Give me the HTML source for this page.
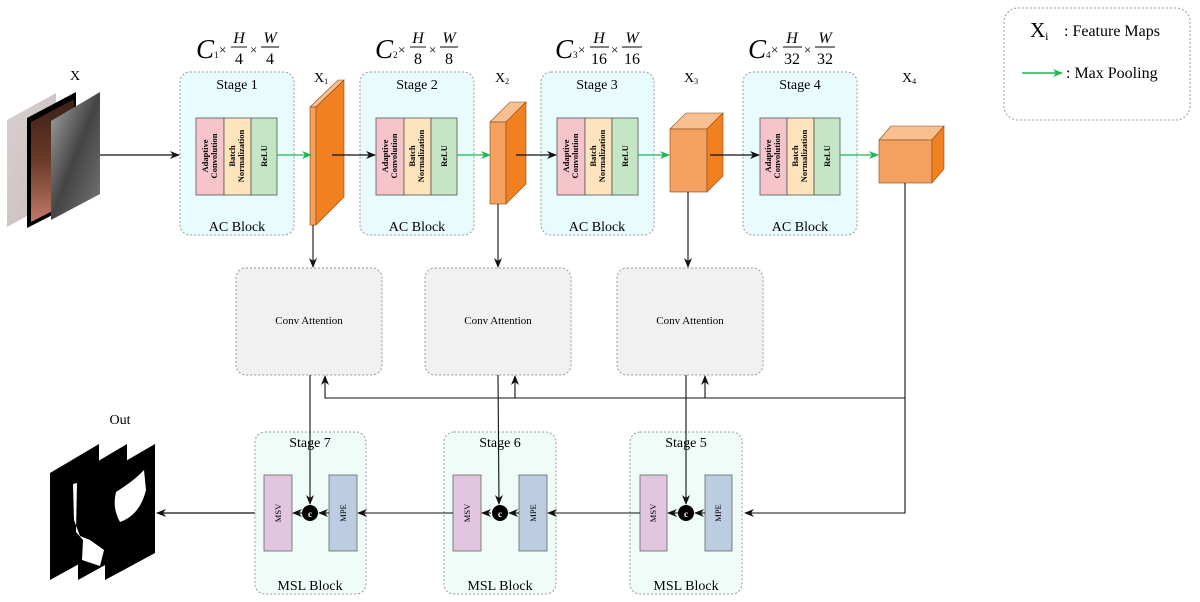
<!DOCTYPE html>
<html><head><meta charset="utf-8"><style>
html,body{margin:0;padding:0;background:#fff;}
svg{display:block;font-family:"Liberation Serif",serif;}
</style></head><body>
<svg width="1200" height="602" viewBox="0 0 1200 602" xmlns="http://www.w3.org/2000/svg">
<defs>
<marker id="ab" markerWidth="10" markerHeight="8" refX="9" refY="4" orient="auto" markerUnits="userSpaceOnUse"><path d="M0,0 L10,4 L0,8 L3,4 Z" fill="#111"/></marker>
<marker id="ag" markerWidth="10" markerHeight="8" refX="9" refY="4" orient="auto" markerUnits="userSpaceOnUse"><path d="M0,0 L10,4 L0,8 L3,4 Z" fill="#1db954"/></marker>
<linearGradient id="g1" x1="0" y1="0" x2="1" y2="1"><stop offset="0" stop-color="#d8d0d0"/><stop offset="1" stop-color="#c8bcbc"/></linearGradient>
<linearGradient id="g2" x1="0" y1="0" x2="0" y2="1"><stop offset="0" stop-color="#3a2018"/><stop offset="0.5" stop-color="#6a3a28"/><stop offset="1" stop-color="#c07a6a"/></linearGradient>
<linearGradient id="g3" x1="0" y1="0" x2="1" y2="1"><stop offset="0" stop-color="#aaa"/><stop offset="0.5" stop-color="#444"/><stop offset="1" stop-color="#777"/></linearGradient>
</defs>

<!-- Legend -->
<rect x="1004" y="8" width="186" height="112" rx="14" fill="#fff" stroke="#999" stroke-dasharray="2,2"/>
<text x="1030" y="37" font-size="21">X<tspan font-size="12" dy="3">i</tspan></text>
<text x="1064" y="36" font-size="16">:  Feature Maps</text>
<line x1="1022" y1="73" x2="1062" y2="73" stroke="#1db954" stroke-width="1.5" marker-end="url(#ag)"/>
<text x="1066" y="78" font-size="16">:  Max Pooling</text>

<!-- Input images -->
<polygon points="7,120 56,93 56,200 7,227" fill="url(#g1)"/>
<polygon points="27,118 76,92 76,203 27,228" fill="#000"/>
<polygon points="31,122 74,99 74,200 31,222" fill="url(#g2)"/>
<polygon points="51,121 100,92 100,194 51,220" fill="url(#g3)"/>
<text x="75" y="80" font-size="14" text-anchor="middle">X</text>

<!-- Output images -->
<polygon points="50,473 99,444 99,553 50,580" fill="#000"/>
<polygon points="78,473 127,444 127,553 78,580" fill="#000"/>
<polygon points="105,473 155,444 155,553 105,580" fill="#000"/>
<path d="M73,484 L77,483 L76,532 L83,540 L82,560 L100,566 L104,550 L90,540 L80,536 L74,520 Z" fill="#fff"/>
<path d="M116,492 Q135,480 144,470 L146,490 Q140,515 120,522 Q112,508 116,492 Z" fill="#fff"/>
<text x="120" y="424" font-size="14" text-anchor="middle">Out</text>
<line x1="255" y1="513" x2="157" y2="513" stroke="#111" stroke-width="1.2" marker-end="url(#ab)"/>

<!-- Stage boxes -->
<g fill="#e8fbfd" stroke="#999" stroke-dasharray="2,2">
<rect x="180" y="72" width="114" height="163" rx="10"/>
<rect x="360" y="72" width="114" height="163" rx="10"/>
<rect x="541" y="72" width="113" height="163" rx="10"/>
<rect x="743" y="72" width="114" height="163" rx="10"/>
</g>
<g font-size="14" text-anchor="middle">
<text x="237" y="89">Stage 1</text><text x="237" y="231">AC Block</text>
<text x="417" y="89">Stage 2</text><text x="417" y="231">AC Block</text>
<text x="597" y="89">Stage 3</text><text x="597" y="231">AC Block</text>
<text x="800" y="89">Stage 4</text><text x="800" y="231">AC Block</text>
</g>

<!-- Inner blocks -->
<g stroke="#555" stroke-width="0.8">
<rect x="196" y="118" width="28" height="77" fill="#f6c4cb"/><rect x="224" y="118" width="27" height="77" fill="#fde4bc"/><rect x="251" y="118" width="26" height="77" fill="#c5e6c5"/>
<rect x="376" y="118" width="28" height="77" fill="#f6c4cb"/><rect x="404" y="118" width="27" height="77" fill="#fde4bc"/><rect x="431" y="118" width="26" height="77" fill="#c5e6c5"/>
<rect x="557" y="118" width="28" height="77" fill="#f6c4cb"/><rect x="585" y="118" width="27" height="77" fill="#fde4bc"/><rect x="612" y="118" width="26" height="77" fill="#c5e6c5"/>
<rect x="760" y="118" width="27" height="77" fill="#f6c4cb"/><rect x="787" y="118" width="27" height="77" fill="#fde4bc"/><rect x="814" y="118" width="26" height="77" fill="#c5e6c5"/>
</g>
<g font-size="8.5" font-weight="bold" text-anchor="middle">
<g transform="translate(210,156) rotate(-90)"><text y="-2">Adaptive</text><text y="7">Convolution</text></g>
<g transform="translate(237,156) rotate(-90)"><text y="-2">Batch</text><text y="7">Normalization</text></g>
<g transform="translate(264,156) rotate(-90)"><text y="3">ReLU</text></g>
<g transform="translate(390,156) rotate(-90)"><text y="-2">Adaptive</text><text y="7">Convolution</text></g>
<g transform="translate(417,156) rotate(-90)"><text y="-2">Batch</text><text y="7">Normalization</text></g>
<g transform="translate(444,156) rotate(-90)"><text y="3">ReLU</text></g>
<g transform="translate(571,156) rotate(-90)"><text y="-2">Adaptive</text><text y="7">Convolution</text></g>
<g transform="translate(598,156) rotate(-90)"><text y="-2">Batch</text><text y="7">Normalization</text></g>
<g transform="translate(625,156) rotate(-90)"><text y="3">ReLU</text></g>
<g transform="translate(773,156) rotate(-90)"><text y="-2">Adaptive</text><text y="7">Convolution</text></g>
<g transform="translate(800,156) rotate(-90)"><text y="-2">Batch</text><text y="7">Normalization</text></g>
<g transform="translate(827,156) rotate(-90)"><text y="3">ReLU</text></g>
</g>

<!-- Formulas -->
<g font-style="italic">
<g transform="translate(196,0)"><text x="0" y="58" font-size="27">C</text><text x="18" y="58" font-size="9" font-style="normal">1</text><text x="23" y="54" font-size="13" font-style="normal">×</text><text x="43" y="43" font-size="16" text-anchor="middle">H</text><line x1="35" y1="47" x2="51" y2="47" stroke="#000" stroke-width="0.9"/><text x="43" y="64" font-size="16" font-style="normal" text-anchor="middle">4</text><text x="54" y="54" font-size="13" font-style="normal">×</text><text x="74" y="43" font-size="16" text-anchor="middle">W</text><line x1="65" y1="47" x2="83" y2="47" stroke="#000" stroke-width="0.9"/><text x="74" y="64" font-size="16" font-style="normal" text-anchor="middle">4</text></g>
<g transform="translate(375,0)"><text x="0" y="58" font-size="27">C</text><text x="18" y="58" font-size="9" font-style="normal">2</text><text x="23" y="54" font-size="13" font-style="normal">×</text><text x="43" y="43" font-size="16" text-anchor="middle">H</text><line x1="35" y1="47" x2="51" y2="47" stroke="#000" stroke-width="0.9"/><text x="43" y="64" font-size="16" font-style="normal" text-anchor="middle">8</text><text x="54" y="54" font-size="13" font-style="normal">×</text><text x="74" y="43" font-size="16" text-anchor="middle">W</text><line x1="65" y1="47" x2="83" y2="47" stroke="#000" stroke-width="0.9"/><text x="74" y="64" font-size="16" font-style="normal" text-anchor="middle">8</text></g>
<g transform="translate(555,0)"><text x="0" y="58" font-size="27">C</text><text x="18" y="58" font-size="9" font-style="normal">3</text><text x="23" y="54" font-size="13" font-style="normal">×</text><text x="44" y="43" font-size="16" text-anchor="middle">H</text><line x1="35" y1="47" x2="54" y2="47" stroke="#000" stroke-width="0.9"/><text x="44" y="64" font-size="16" font-style="normal" text-anchor="middle">16</text><text x="56" y="54" font-size="13" font-style="normal">×</text><text x="77" y="43" font-size="16" text-anchor="middle">W</text><line x1="67" y1="47" x2="87" y2="47" stroke="#000" stroke-width="0.9"/><text x="77" y="64" font-size="16" font-style="normal" text-anchor="middle">16</text></g>
<g transform="translate(748,0)"><text x="0" y="58" font-size="27">C</text><text x="18" y="58" font-size="9" font-style="normal">4</text><text x="23" y="54" font-size="13" font-style="normal">×</text><text x="44" y="43" font-size="16" text-anchor="middle">H</text><line x1="35" y1="47" x2="54" y2="47" stroke="#000" stroke-width="0.9"/><text x="44" y="64" font-size="16" font-style="normal" text-anchor="middle">32</text><text x="56" y="54" font-size="13" font-style="normal">×</text><text x="77" y="43" font-size="16" text-anchor="middle">W</text><line x1="67" y1="47" x2="87" y2="47" stroke="#000" stroke-width="0.9"/><text x="77" y="64" font-size="16" font-style="normal" text-anchor="middle">32</text></g>
</g>

<!-- Feature maps -->
<g stroke="#8a4a10" stroke-width="0.6">
<polygon points="310,107 316,107 344,80 338,80" fill="#f8c090"/>
<rect x="310" y="107" width="6" height="118" fill="#f4a060"/>
<polygon points="316,107 344,80 344,197 316,225" fill="#f08020"/>

<polygon points="490,122 506,122 526,102 510,102" fill="#f8c090"/>
<rect x="490" y="122" width="16" height="82" fill="#f4a060"/>
<polygon points="506,122 526,102 526,184 506,204" fill="#f08020"/>

<polygon points="670,129 707,129 723,113 686,113" fill="#f8c090"/>
<rect x="670" y="129" width="37" height="63" fill="#f4a060"/>
<polygon points="707,129 723,113 723,176 707,192" fill="#f08020"/>

<polygon points="879,140 932,140 944,126 891,126" fill="#f8c090"/>
<rect x="879" y="140" width="53" height="43" fill="#f4a060"/>
<polygon points="932,140 944,126 944,169 932,183" fill="#f08020"/>
</g>
<g font-size="14">
<text x="314" y="82">X<tspan font-size="8" dy="2">1</tspan></text>
<text x="495" y="82">X<tspan font-size="8" dy="2">2</tspan></text>
<text x="684" y="82">X<tspan font-size="8" dy="2">3</tspan></text>
<text x="902" y="82">X<tspan font-size="8" dy="2">4</tspan></text>
</g>

<!-- Top row arrows -->
<g stroke-width="1.2" fill="none">
<line x1="100" y1="155" x2="179" y2="155" stroke="#111" marker-end="url(#ab)"/>
<line x1="277" y1="155" x2="311" y2="155" stroke="#1db954" marker-end="url(#ag)"/>
<line x1="332" y1="155" x2="375" y2="155" stroke="#111" marker-end="url(#ab)"/>
<line x1="457" y1="155" x2="490" y2="155" stroke="#1db954" marker-end="url(#ag)"/>
<line x1="516" y1="155" x2="556" y2="155" stroke="#111" marker-end="url(#ab)"/>
<line x1="638" y1="155" x2="669" y2="155" stroke="#1db954" marker-end="url(#ag)"/>
<line x1="710" y1="155" x2="759" y2="155" stroke="#111" marker-end="url(#ab)"/>
<line x1="840" y1="155" x2="878" y2="155" stroke="#1db954" marker-end="url(#ag)"/>
</g>

<!-- Conv attention -->
<g fill="#f1f1f1" stroke="#999" stroke-dasharray="2,2">
<rect x="236" y="268" width="146" height="107" rx="10"/>
<rect x="425" y="268" width="146" height="107" rx="10"/>
<rect x="617" y="268" width="146" height="107" rx="10"/>
</g>
<g font-size="11" text-anchor="middle">
<text x="309" y="324">Conv Attention</text>
<text x="498" y="324">Conv Attention</text>
<text x="690" y="324">Conv Attention</text>
</g>

<!-- vertical connections -->
<g stroke="#111" stroke-width="1.1" fill="none">
<line x1="313" y1="225" x2="313" y2="267" marker-end="url(#ab)"/>
<line x1="498" y1="204" x2="498" y2="267" marker-end="url(#ab)"/>
<line x1="688" y1="192" x2="688" y2="267" marker-end="url(#ab)"/>
<polyline points="905,183 905,513 745,513" marker-end="url(#ab)"/>
<polyline points="905,398 325,398 325,376" marker-end="url(#ab)"/>
<line x1="515" y1="398" x2="515" y2="376" marker-end="url(#ab)"/>
<line x1="705" y1="398" x2="705" y2="376" marker-end="url(#ab)"/>
</g>

<!-- MSL blocks -->
<g fill="#f0fcf8" stroke="#999" stroke-dasharray="2,2">
<rect x="255" y="432" width="111" height="162" rx="10"/>
<rect x="444" y="432" width="112" height="162" rx="10"/>
<rect x="630" y="432" width="112" height="162" rx="10"/>
</g>
<g font-size="14" text-anchor="middle">
<text x="310" y="447">Stage 7</text><text x="310" y="590">MSL Block</text>
<text x="500" y="447">Stage 6</text><text x="500" y="590">MSL Block</text>
<text x="686" y="447">Stage 5</text><text x="686" y="590">MSL Block</text>
</g>
<g stroke="#666" stroke-width="0.8">
<rect x="264" y="475" width="28" height="76" fill="#e2c5de"/><rect x="329" y="475" width="28" height="76" fill="#bccde2"/>
<rect x="453" y="475" width="28" height="76" fill="#e2c5de"/><rect x="519" y="475" width="28" height="76" fill="#bccde2"/>
<rect x="640" y="475" width="27" height="76" fill="#e2c5de"/><rect x="705" y="475" width="27" height="76" fill="#bccde2"/>
</g>
<g font-size="8.5" text-anchor="middle">
<text transform="translate(281,513) rotate(-90)">MSV</text><text transform="translate(346,513) rotate(-90)">MPE</text>
<text transform="translate(470,513) rotate(-90)">MSV</text><text transform="translate(536,513) rotate(-90)">MPE</text>
<text transform="translate(656,513) rotate(-90)">MSV</text><text transform="translate(721,513) rotate(-90)">MPE</text>
</g>
<g stroke="#111" stroke-width="1.1" fill="none">
<line x1="310" y1="375" x2="310" y2="504" marker-end="url(#ab)"/>
<line x1="498" y1="375" x2="499" y2="504" marker-end="url(#ab)"/>
<line x1="686" y1="375" x2="686" y2="504" marker-end="url(#ab)"/>
<line x1="329" y1="513" x2="319" y2="513" marker-end="url(#ab)"/>
<line x1="302" y1="513" x2="293" y2="513" marker-end="url(#ab)"/>
<line x1="519" y1="513" x2="509" y2="513" marker-end="url(#ab)"/>
<line x1="491" y1="513" x2="482" y2="513" marker-end="url(#ab)"/>
<line x1="705" y1="513" x2="695" y2="513" marker-end="url(#ab)"/>
<line x1="678" y1="513" x2="668" y2="513" marker-end="url(#ab)"/>
<line x1="640" y1="513" x2="548" y2="513" marker-end="url(#ab)"/>
<line x1="453" y1="513" x2="358" y2="513" marker-end="url(#ab)"/>
</g>
<g>
<circle cx="310" cy="513" r="8" fill="#000"/><text x="310" y="517" font-size="9" font-weight="bold" fill="#fff" text-anchor="middle">c</text>
<circle cx="500" cy="513" r="8" fill="#000"/><text x="500" y="517" font-size="9" font-weight="bold" fill="#fff" text-anchor="middle">c</text>
<circle cx="686" cy="513" r="8" fill="#000"/><text x="686" y="517" font-size="9" font-weight="bold" fill="#fff" text-anchor="middle">c</text>
</g>
</svg>
</body></html>
